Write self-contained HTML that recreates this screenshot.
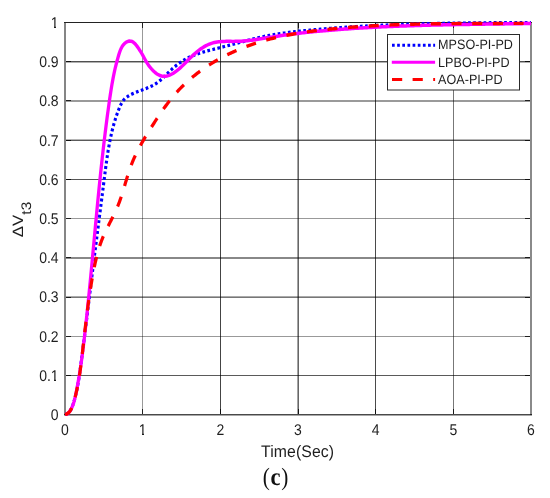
<!DOCTYPE html>
<html><head><meta charset="utf-8"><style>
html,body{margin:0;padding:0;background:#fff;}
body{width:550px;height:498px;overflow:hidden;position:relative;}
svg{position:absolute;left:0;top:0;}
text{font-family:"Liberation Sans",Arial,Helvetica,sans-serif;fill:#1e1e1e;text-rendering:geometricPrecision;}
.tk{font-size:14px;}
.lb{font-size:15.8px;letter-spacing:0.1px;}
.lg{font-size:12.6px;}
.cap{font-family:"Liberation Serif","Times New Roman",serif;font-size:25px;fill:#111;}
</style></head><body>
<svg width="550" height="498" viewBox="0 0 550 498">
<rect width="550" height="498" fill="#fff"/>
<rect x="142" y="23" width="1" height="391" fill="#000" fill-opacity="0.400"/>
<rect x="220" y="23" width="1" height="391" fill="#000" fill-opacity="0.733"/>
<rect x="297" y="23" width="1" height="391" fill="#000" fill-opacity="0.357"/>
<rect x="298" y="23" width="1" height="391" fill="#000" fill-opacity="0.600"/>
<rect x="375" y="23" width="1" height="391" fill="#000" fill-opacity="0.710"/>
<rect x="453" y="23" width="1" height="391" fill="#000" fill-opacity="0.533"/>
<rect x="66" y="375" width="464" height="1" fill="#000" fill-opacity="0.647"/>
<rect x="66" y="336" width="464" height="1" fill="#000" fill-opacity="0.400"/>
<rect x="66" y="296" width="464" height="1" fill="#000" fill-opacity="0.333"/>
<rect x="66" y="297" width="464" height="1" fill="#000" fill-opacity="0.533"/>
<rect x="66" y="257" width="464" height="1" fill="#000" fill-opacity="0.467"/>
<rect x="66" y="258" width="464" height="1" fill="#000" fill-opacity="0.467"/>
<rect x="66" y="218" width="464" height="1" fill="#000" fill-opacity="0.400"/>
<rect x="66" y="179" width="464" height="1" fill="#000" fill-opacity="0.667"/>
<rect x="66" y="139" width="464" height="1" fill="#000" fill-opacity="0.290"/>
<rect x="66" y="140" width="464" height="1" fill="#000" fill-opacity="0.647"/>
<rect x="66" y="100" width="464" height="1" fill="#000" fill-opacity="0.396"/>
<rect x="66" y="101" width="464" height="1" fill="#000" fill-opacity="0.396"/>
<rect x="66" y="61" width="464" height="1" fill="#000" fill-opacity="0.686"/>
<rect x="66" y="62" width="464" height="1" fill="#000" fill-opacity="0.310"/>
<rect x="64" y="22" width="468" height="1" fill="#000" fill-opacity="0.867"/>
<rect x="64" y="414" width="468" height="1" fill="#000" fill-opacity="0.710"/>
<rect x="64" y="415" width="468" height="1" fill="#000" fill-opacity="0.341"/>
<rect x="64" y="23" width="1" height="392" fill="#000" fill-opacity="0.478"/>
<rect x="65" y="23" width="1" height="392" fill="#000" fill-opacity="0.478"/>
<rect x="530" y="23" width="1" height="392" fill="#000" fill-opacity="0.459"/>
<rect x="531" y="23" width="1" height="392" fill="#000" fill-opacity="0.459"/>
<rect x="142" y="23" width="1" height="5" fill="#000" fill-opacity="0.792"/>
<rect x="142" y="409" width="1" height="5" fill="#000" fill-opacity="0.792"/>
<rect x="220" y="23" width="1" height="5" fill="#000" fill-opacity="0.792"/>
<rect x="220" y="409" width="1" height="5" fill="#000" fill-opacity="0.792"/>
<rect x="298" y="23" width="1" height="5" fill="#000" fill-opacity="0.792"/>
<rect x="298" y="409" width="1" height="5" fill="#000" fill-opacity="0.792"/>
<rect x="375" y="23" width="1" height="5" fill="#000" fill-opacity="0.792"/>
<rect x="375" y="409" width="1" height="5" fill="#000" fill-opacity="0.792"/>
<rect x="453" y="23" width="1" height="5" fill="#000" fill-opacity="0.792"/>
<rect x="453" y="409" width="1" height="5" fill="#000" fill-opacity="0.792"/>
<rect x="66" y="375" width="5" height="1" fill="#000" fill-opacity="0.792"/>
<rect x="525" y="375" width="5" height="1" fill="#000" fill-opacity="0.792"/>
<rect x="66" y="336" width="5" height="1" fill="#000" fill-opacity="0.792"/>
<rect x="525" y="336" width="5" height="1" fill="#000" fill-opacity="0.792"/>
<rect x="66" y="297" width="5" height="1" fill="#000" fill-opacity="0.792"/>
<rect x="525" y="297" width="5" height="1" fill="#000" fill-opacity="0.792"/>
<rect x="66" y="257" width="5" height="1" fill="#000" fill-opacity="0.792"/>
<rect x="525" y="257" width="5" height="1" fill="#000" fill-opacity="0.792"/>
<rect x="66" y="218" width="5" height="1" fill="#000" fill-opacity="0.792"/>
<rect x="525" y="218" width="5" height="1" fill="#000" fill-opacity="0.792"/>
<rect x="66" y="179" width="5" height="1" fill="#000" fill-opacity="0.792"/>
<rect x="525" y="179" width="5" height="1" fill="#000" fill-opacity="0.792"/>
<rect x="66" y="140" width="5" height="1" fill="#000" fill-opacity="0.792"/>
<rect x="525" y="140" width="5" height="1" fill="#000" fill-opacity="0.792"/>
<rect x="66" y="100" width="5" height="1" fill="#000" fill-opacity="0.792"/>
<rect x="525" y="100" width="5" height="1" fill="#000" fill-opacity="0.792"/>
<rect x="66" y="61" width="5" height="1" fill="#000" fill-opacity="0.792"/>
<rect x="525" y="61" width="5" height="1" fill="#000" fill-opacity="0.792"/>
<clipPath id="clip"><rect x="64.0" y="19.81" width="468.0" height="372.64"/></clipPath>
<g transform="scale(1,1.06)" clip-path="url(#clip)">
<path d="M65.00 391.06 L66.51 390.69 L67.78 390.02 L68.86 389.12 L69.79 388.07 L70.61 386.92 L71.32 385.69 L71.95 384.39 L72.51 383.04 L73.02 381.66 L73.49 380.27 L73.93 378.87 L74.36 377.47 L74.76 376.07 L75.15 374.67 L75.52 373.28 L75.88 371.88 L76.22 370.49 L76.54 369.09 L76.86 367.70 L77.16 366.31 L77.44 364.92 L77.72 363.53 L77.98 362.13 L78.24 360.74 L78.49 359.35 L78.73 357.96 L78.96 356.57 L79.18 355.18 L79.40 353.79 L79.61 352.40 L79.82 351.00 L80.03 349.61 L80.23 348.22 L80.43 346.83 L80.63 345.43 L80.83 344.04 L81.03 342.64 L81.23 341.24 L81.43 339.84 L81.62 338.44 L81.82 337.05 L82.02 335.65 L82.21 334.24 L82.40 332.84 L82.60 331.44 L82.79 330.04 L82.98 328.63 L83.18 327.23 L83.37 325.83 L83.56 324.42 L83.75 323.01 L83.94 321.61 L84.13 320.20 L84.32 318.79 L84.51 317.39 L84.70 315.98 L84.88 314.57 L85.07 313.16 L85.26 311.75 L85.44 310.34 L85.63 308.93 L85.82 307.52 L86.00 306.11 L86.19 304.70 L86.37 303.29 L86.56 301.87 L86.74 300.46 L86.93 299.05 L87.11 297.64 L87.30 296.22 L87.48 294.81 L87.67 293.40 L87.85 291.98 L88.03 290.57 L88.22 289.16 L88.40 287.74 L88.58 286.33 L88.77 284.92 L88.95 283.50 L89.13 282.09 L89.32 280.68 L89.50 279.26 L89.68 277.85 L89.86 276.43 L90.05 275.02 L90.23 273.61 L90.41 272.19 L90.60 270.78 L90.78 269.37 L90.96 267.95 L91.15 266.54 L91.33 265.13 L91.51 263.72 L91.70 262.30 L91.88 260.89 L92.07 259.48 L92.25 258.07 L92.44 256.66 L92.62 255.25 L92.81 253.84 L92.99 252.43 L93.18 251.02 L93.36 249.61 L93.55 248.20 L93.74 246.79 L93.92 245.38 L94.11 243.98 L94.30 242.57 L94.49 241.16 L94.67 239.76 L94.86 238.35 L95.05 236.94 L95.24 235.54 L95.43 234.13 L95.62 232.72 L95.80 231.32 L95.99 229.91 L96.18 228.51 L96.37 227.10 L96.56 225.70 L96.75 224.29 L96.94 222.89 L97.13 221.48 L97.32 220.08 L97.51 218.67 L97.70 217.27 L97.89 215.86 L98.08 214.46 L98.27 213.05 L98.46 211.65 L98.65 210.24 L98.84 208.84 L99.04 207.43 L99.23 206.02 L99.42 204.62 L99.61 203.21 L99.80 201.81 L99.99 200.40 L100.18 198.99 L100.37 197.59 L100.56 196.18 L100.75 194.77 L100.94 193.37 L101.13 191.96 L101.33 190.55 L101.52 189.14 L101.71 187.73 L101.90 186.33 L102.09 184.92 L102.28 183.51 L102.47 182.10 L102.66 180.69 L102.85 179.28 L103.04 177.86 L103.23 176.45 L103.42 175.04 L103.61 173.63 L103.80 172.21 L103.99 170.80 L104.18 169.39 L104.37 167.97 L104.56 166.56 L104.75 165.14 L104.94 163.72 L105.13 162.31 L105.32 160.89 L105.51 159.48 L105.71 158.06 L105.91 156.65 L106.11 155.23 L106.32 153.82 L106.52 152.40 L106.73 150.99 L106.95 149.58 L107.17 148.17 L107.39 146.76 L107.62 145.35 L107.86 143.94 L108.09 142.54 L108.34 141.14 L108.59 139.73 L108.85 138.33 L109.11 136.94 L109.38 135.54 L109.66 134.15 L109.95 132.76 L110.24 131.37 L110.55 129.98 L110.86 128.60 L111.18 127.22 L111.51 125.84 L111.85 124.47 L112.20 123.09 L112.56 121.73 L112.93 120.36 L113.31 119.00 L113.70 117.64 L114.10 116.29 L114.52 114.94 L114.95 113.59 L115.39 112.25 L115.84 110.91 L116.31 109.58 L116.79 108.24 L117.29 106.90 L117.82 105.55 L118.36 104.21 L118.92 102.85 L119.50 101.49 L120.12 100.14 L120.78 98.81 L121.49 97.51 L122.26 96.27 L123.10 95.10 L124.02 94.01 L125.01 93.01 L126.09 92.10 L127.24 91.27 L128.45 90.51 L129.71 89.81 L131.01 89.17 L132.34 88.56 L133.69 87.98 L135.07 87.42 L136.45 86.89 L137.86 86.38 L139.27 85.87 L140.68 85.37 L142.10 84.88 L143.52 84.38 L144.94 83.87 L146.35 83.36 L147.74 82.82 L149.13 82.26 L150.49 81.68 L151.84 81.07 L153.17 80.42 L154.46 79.73 L155.73 79.00 L156.97 78.22 L158.17 77.39 L159.35 76.52 L160.50 75.61 L161.63 74.67 L162.74 73.71 L163.84 72.72 L164.93 71.72 L166.02 70.71 L167.10 69.69 L168.18 68.67 L169.27 67.66 L170.36 66.66 L171.47 65.67 L172.59 64.70 L173.72 63.75 L174.88 62.83 L176.04 61.93 L177.23 61.06 L178.43 60.21 L179.65 59.38 L180.88 58.58 L182.13 57.81 L183.39 57.06 L184.67 56.33 L185.96 55.63 L187.27 54.96 L188.59 54.31 L189.93 53.69 L191.28 53.10 L192.65 52.54 L194.03 52.00 L195.42 51.49 L196.82 51.00 L198.24 50.54 L199.66 50.10 L201.10 49.67 L202.54 49.26 L203.98 48.87 L205.44 48.49 L206.89 48.12 L208.36 47.75 L209.82 47.40 L211.28 47.04 L212.74 46.70 L214.21 46.35 L215.67 46.00 L217.13 45.65 L218.58 45.30 L220.04 44.94 L221.50 44.59 L222.95 44.24 L224.41 43.89 L225.86 43.53 L227.31 43.18 L228.76 42.82 L230.21 42.47 L231.66 42.11 L233.11 41.75 L234.56 41.39 L236.01 41.03 L237.46 40.66 L238.92 40.30 L240.37 39.93 L241.82 39.56 L243.27 39.20 L244.72 38.83 L246.17 38.46 L247.63 38.10 L249.08 37.74 L250.53 37.39 L251.99 37.03 L253.45 36.69 L254.91 36.35 L256.37 36.01 L257.83 35.69 L259.30 35.37 L260.76 35.06 L262.23 34.76 L263.70 34.47 L265.17 34.18 L266.65 33.91 L268.12 33.64 L269.60 33.38 L271.08 33.12 L272.56 32.88 L274.04 32.64 L275.53 32.41 L277.01 32.18 L278.50 31.96 L279.98 31.75 L281.47 31.54 L282.96 31.34 L284.45 31.14 L285.94 30.95 L287.43 30.76 L288.93 30.58 L290.42 30.40 L291.92 30.23 L293.41 30.06 L294.91 29.90 L296.41 29.74 L297.90 29.58 L299.40 29.43 L300.90 29.28 L302.40 29.13 L303.90 28.99 L305.40 28.84 L306.90 28.71 L308.40 28.57 L309.90 28.43 L311.40 28.30 L312.90 28.17 L314.40 28.04 L315.90 27.91 L317.40 27.78 L318.90 27.66 L320.40 27.54 L321.90 27.42 L323.40 27.30 L324.90 27.18 L326.41 27.06 L327.91 26.95 L329.41 26.83 L330.91 26.72 L332.41 26.61 L333.91 26.50 L335.41 26.40 L336.91 26.29 L338.42 26.19 L339.92 26.09 L341.42 25.99 L342.92 25.89 L344.42 25.79 L345.93 25.69 L347.43 25.60 L348.93 25.50 L350.43 25.41 L351.93 25.32 L353.44 25.23 L354.94 25.15 L356.44 25.06 L357.94 24.97 L359.45 24.89 L360.95 24.81 L362.45 24.73 L363.96 24.65 L365.46 24.57 L366.96 24.49 L368.46 24.42 L369.97 24.34 L371.47 24.27 L372.97 24.20 L374.48 24.13 L375.98 24.06 L377.48 23.99 L378.99 23.93 L380.49 23.86 L381.99 23.80 L383.50 23.73 L385.00 23.67 L386.50 23.61 L388.01 23.55 L389.51 23.49 L391.02 23.43 L392.52 23.38 L394.02 23.32 L395.53 23.27 L397.03 23.21 L398.54 23.16 L400.04 23.11 L401.54 23.06 L403.05 23.01 L404.55 22.96 L406.06 22.92 L407.56 22.87 L409.07 22.83 L410.57 22.78 L412.07 22.74 L413.58 22.70 L415.08 22.65 L416.59 22.61 L418.09 22.57 L419.60 22.53 L421.10 22.50 L422.61 22.46 L424.11 22.42 L425.62 22.39 L427.12 22.35 L428.63 22.32 L430.13 22.29 L431.63 22.25 L433.14 22.22 L434.64 22.19 L436.15 22.16 L437.65 22.13 L439.16 22.10 L440.66 22.08 L442.17 22.05 L443.68 22.02 L445.18 22.00 L446.69 21.97 L448.19 21.95 L449.70 21.92 L451.20 21.90 L452.71 21.88 L454.21 21.86 L455.72 21.83 L457.22 21.81 L458.73 21.79 L460.23 21.77 L461.74 21.75 L463.24 21.73 L464.75 21.72 L466.26 21.70 L467.76 21.68 L469.27 21.66 L470.77 21.65 L472.28 21.63 L473.78 21.62 L475.29 21.60 L476.79 21.59 L478.30 21.57 L479.81 21.56 L481.31 21.55 L482.82 21.53 L484.32 21.52 L485.83 21.51 L487.33 21.49 L488.84 21.48 L490.35 21.47 L491.85 21.46 L493.36 21.45 L494.86 21.44 L496.37 21.43 L497.87 21.42 L499.38 21.41 L500.89 21.40 L502.39 21.39 L503.90 21.38 L505.40 21.37 L506.91 21.36 L508.41 21.35 L509.92 21.34 L511.43 21.33 L512.93 21.32 L514.44 21.32 L515.94 21.31 L517.45 21.30 L518.95 21.29 L520.46 21.28 L521.97 21.27 L523.47 21.27 L524.98 21.26 L526.48 21.25 L527.99 21.24 L529.49 21.23 L531.00 21.23" fill="none" stroke="#0000ff" stroke-width="3.1" stroke-dasharray="2.7 2.455" stroke-dashoffset="-0.69"/>
<path d="M65.00 391.05 L66.56 390.80 L67.81 390.10 L68.84 389.10 L69.73 387.96 L70.53 386.78 L71.26 385.55 L71.92 384.30 L72.52 383.01 L73.06 381.70 L73.55 380.36 L73.99 379.00 L74.40 377.63 L74.78 376.24 L75.13 374.84 L75.46 373.44 L75.77 372.03 L76.08 370.62 L76.38 369.22 L76.68 367.81 L76.97 366.40 L77.25 365.00 L77.53 363.59 L77.81 362.19 L78.08 360.78 L78.34 359.38 L78.60 357.97 L78.85 356.57 L79.10 355.17 L79.34 353.76 L79.58 352.36 L79.82 350.96 L80.05 349.56 L80.28 348.16 L80.50 346.76 L80.72 345.35 L80.94 343.95 L81.15 342.55 L81.36 341.15 L81.56 339.75 L81.77 338.35 L81.96 336.95 L82.16 335.55 L82.35 334.15 L82.55 332.75 L82.73 331.34 L82.92 329.94 L83.10 328.54 L83.29 327.14 L83.47 325.74 L83.64 324.34 L83.82 322.93 L84.00 321.53 L84.17 320.13 L84.34 318.72 L84.51 317.32 L84.68 315.92 L84.85 314.51 L85.02 313.11 L85.19 311.70 L85.35 310.30 L85.52 308.89 L85.68 307.48 L85.85 306.08 L86.01 304.67 L86.17 303.26 L86.33 301.85 L86.49 300.45 L86.65 299.04 L86.81 297.63 L86.97 296.22 L87.13 294.81 L87.28 293.40 L87.44 291.99 L87.59 290.58 L87.75 289.17 L87.90 287.76 L88.05 286.35 L88.21 284.93 L88.36 283.52 L88.51 282.11 L88.66 280.70 L88.81 279.28 L88.96 277.87 L89.11 276.46 L89.25 275.05 L89.40 273.63 L89.55 272.22 L89.70 270.80 L89.84 269.39 L89.99 267.98 L90.13 266.56 L90.28 265.15 L90.42 263.73 L90.57 262.32 L90.71 260.90 L90.85 259.48 L91.00 258.07 L91.14 256.65 L91.28 255.24 L91.42 253.82 L91.57 252.40 L91.71 250.99 L91.85 249.57 L91.99 248.16 L92.13 246.74 L92.27 245.32 L92.41 243.90 L92.55 242.49 L92.69 241.07 L92.83 239.65 L92.97 238.24 L93.11 236.82 L93.25 235.40 L93.39 233.98 L93.53 232.57 L93.67 231.15 L93.81 229.73 L93.95 228.31 L94.09 226.90 L94.23 225.48 L94.37 224.06 L94.51 222.64 L94.65 221.22 L94.79 219.81 L94.93 218.39 L95.07 216.97 L95.21 215.55 L95.35 214.14 L95.49 212.72 L95.63 211.30 L95.77 209.88 L95.91 208.47 L96.05 207.05 L96.19 205.63 L96.34 204.21 L96.48 202.80 L96.62 201.38 L96.76 199.96 L96.91 198.55 L97.05 197.13 L97.19 195.71 L97.34 194.30 L97.48 192.88 L97.63 191.46 L97.77 190.05 L97.92 188.63 L98.07 187.21 L98.21 185.80 L98.36 184.38 L98.51 182.97 L98.66 181.55 L98.81 180.14 L98.95 178.72 L99.10 177.31 L99.26 175.89 L99.41 174.48 L99.56 173.06 L99.71 171.65 L99.86 170.24 L100.02 168.82 L100.17 167.41 L100.33 166.00 L100.48 164.58 L100.64 163.17 L100.80 161.76 L100.96 160.35 L101.11 158.93 L101.27 157.52 L101.43 156.11 L101.60 154.70 L101.76 153.29 L101.92 151.88 L102.08 150.47 L102.25 149.06 L102.41 147.65 L102.58 146.24 L102.75 144.83 L102.92 143.42 L103.09 142.01 L103.26 140.61 L103.43 139.20 L103.60 137.79 L103.77 136.38 L103.95 134.98 L104.12 133.57 L104.30 132.17 L104.48 130.76 L104.66 129.36 L104.84 127.95 L105.02 126.55 L105.20 125.14 L105.38 123.74 L105.57 122.34 L105.76 120.94 L105.94 119.53 L106.13 118.13 L106.32 116.73 L106.51 115.33 L106.70 113.93 L106.90 112.53 L107.09 111.13 L107.29 109.73 L107.49 108.33 L107.68 106.94 L107.88 105.54 L108.09 104.14 L108.29 102.74 L108.49 101.35 L108.70 99.95 L108.91 98.56 L109.12 97.16 L109.33 95.77 L109.54 94.38 L109.75 92.98 L109.97 91.59 L110.19 90.20 L110.41 88.81 L110.63 87.42 L110.86 86.02 L111.09 84.63 L111.33 83.24 L111.57 81.85 L111.82 80.45 L112.07 79.06 L112.34 77.66 L112.60 76.27 L112.88 74.87 L113.16 73.47 L113.45 72.07 L113.75 70.67 L114.06 69.26 L114.38 67.86 L114.70 66.45 L115.04 65.04 L115.39 63.63 L115.75 62.22 L116.12 60.80 L116.50 59.38 L116.90 57.96 L117.31 56.54 L117.73 55.11 L118.16 53.68 L118.61 52.25 L119.08 50.82 L119.57 49.39 L120.10 48.00 L120.67 46.64 L121.31 45.34 L122.01 44.11 L122.79 42.96 L123.67 41.90 L124.64 40.96 L125.73 40.14 L126.93 39.47 L128.21 38.98 L129.54 38.74 L130.86 38.80 L132.15 39.19 L133.39 39.90 L134.58 40.86 L135.72 42.02 L136.80 43.31 L137.82 44.67 L138.80 46.04 L139.71 47.36 L140.58 48.63 L141.38 49.85 L142.13 51.04 L142.82 52.21 L143.48 53.36 L144.12 54.51 L144.77 55.66 L145.44 56.82 L146.16 58.00 L146.94 59.21 L147.78 60.43 L148.67 61.66 L149.62 62.88 L150.62 64.07 L151.67 65.23 L152.76 66.35 L153.90 67.40 L155.07 68.37 L156.28 69.26 L157.52 70.05 L158.80 70.72 L160.09 71.27 L161.42 71.67 L162.76 71.92 L164.12 72.01 L165.49 71.93 L166.87 71.70 L168.25 71.34 L169.63 70.86 L171.01 70.26 L172.37 69.57 L173.71 68.80 L175.03 67.97 L176.32 67.08 L177.58 66.15 L178.81 65.19 L179.98 64.23 L181.12 63.26 L182.21 62.29 L183.27 61.32 L184.31 60.35 L185.33 59.38 L186.34 58.41 L187.35 57.43 L188.37 56.45 L189.40 55.46 L190.45 54.47 L191.52 53.48 L192.62 52.49 L193.74 51.50 L194.88 50.53 L196.04 49.58 L197.22 48.65 L198.42 47.75 L199.65 46.88 L200.89 46.05 L202.15 45.24 L203.43 44.48 L204.73 43.76 L206.04 43.09 L207.38 42.46 L208.74 41.89 L210.11 41.37 L211.50 40.90 L212.91 40.49 L214.33 40.15 L215.77 39.86 L217.23 39.63 L218.70 39.44 L220.18 39.30 L221.67 39.19 L223.17 39.11 L224.68 39.06 L226.19 39.03 L227.71 39.02 L229.24 39.02 L230.77 39.03 L232.30 39.04 L233.82 39.04 L235.35 39.03 L236.88 39.01 L238.40 38.97 L239.91 38.91 L241.43 38.84 L242.94 38.74 L244.44 38.63 L245.94 38.51 L247.44 38.37 L248.94 38.21 L250.43 38.05 L251.93 37.87 L253.42 37.68 L254.90 37.48 L256.39 37.28 L257.87 37.07 L259.36 36.85 L260.84 36.63 L262.32 36.40 L263.80 36.17 L265.28 35.94 L266.76 35.71 L268.24 35.47 L269.73 35.24 L271.21 35.01 L272.69 34.78 L274.17 34.56 L275.66 34.34 L277.14 34.13 L278.63 33.92 L280.11 33.71 L281.60 33.51 L283.09 33.31 L284.58 33.11 L286.07 32.92 L287.56 32.73 L289.05 32.54 L290.54 32.36 L292.03 32.18 L293.53 32.00 L295.02 31.83 L296.51 31.66 L298.01 31.50 L299.50 31.33 L301.00 31.17 L302.50 31.01 L303.99 30.86 L305.49 30.70 L306.99 30.55 L308.49 30.40 L309.98 30.26 L311.48 30.12 L312.98 29.97 L314.48 29.84 L315.98 29.70 L317.48 29.56 L318.98 29.43 L320.48 29.30 L321.98 29.17 L323.48 29.04 L324.98 28.92 L326.48 28.80 L327.98 28.67 L329.48 28.55 L330.98 28.44 L332.48 28.32 L333.98 28.20 L335.48 28.09 L336.98 27.98 L338.48 27.87 L339.98 27.76 L341.48 27.66 L342.98 27.55 L344.48 27.45 L345.98 27.35 L347.49 27.25 L348.99 27.15 L350.49 27.05 L351.99 26.96 L353.49 26.86 L354.99 26.77 L356.50 26.68 L358.00 26.59 L359.50 26.50 L361.00 26.42 L362.50 26.33 L364.01 26.25 L365.51 26.17 L367.01 26.08 L368.51 26.01 L370.02 25.93 L371.52 25.85 L373.02 25.78 L374.52 25.70 L376.03 25.63 L377.53 25.56 L379.03 25.49 L380.54 25.42 L382.04 25.35 L383.54 25.28 L385.05 25.22 L386.55 25.15 L388.05 25.09 L389.56 25.03 L391.06 24.97 L392.56 24.91 L394.07 24.85 L395.57 24.79 L397.08 24.74 L398.58 24.68 L400.08 24.63 L401.59 24.57 L403.09 24.52 L404.59 24.47 L406.10 24.42 L407.60 24.37 L409.11 24.32 L410.61 24.28 L412.12 24.23 L413.62 24.18 L415.12 24.14 L416.63 24.10 L418.13 24.05 L419.64 24.01 L421.14 23.97 L422.65 23.93 L424.15 23.89 L425.66 23.85 L427.16 23.81 L428.67 23.78 L430.17 23.74 L431.68 23.70 L433.18 23.67 L434.68 23.63 L436.19 23.60 L437.69 23.57 L439.20 23.53 L440.70 23.50 L442.21 23.47 L443.71 23.44 L445.22 23.41 L446.72 23.38 L448.23 23.35 L449.73 23.32 L451.24 23.30 L452.74 23.27 L454.25 23.24 L455.75 23.22 L457.26 23.19 L458.76 23.16 L460.27 23.14 L461.77 23.12 L463.28 23.09 L464.79 23.07 L466.29 23.04 L467.80 23.02 L469.30 23.00 L470.81 22.97 L472.31 22.95 L473.82 22.93 L475.32 22.91 L476.83 22.89 L478.33 22.87 L479.84 22.85 L481.34 22.82 L482.85 22.80 L484.35 22.78 L485.86 22.76 L487.36 22.74 L488.87 22.72 L490.37 22.70 L491.88 22.68 L493.38 22.66 L494.89 22.65 L496.39 22.63 L497.90 22.61 L499.40 22.59 L500.91 22.57 L502.41 22.55 L503.92 22.53 L505.42 22.51 L506.93 22.49 L508.43 22.47 L509.94 22.45 L511.44 22.43 L512.95 22.41 L514.45 22.39 L515.95 22.37 L517.46 22.35 L518.96 22.33 L520.47 22.31 L521.97 22.29 L523.48 22.27 L524.98 22.25 L526.49 22.22 L527.99 22.20 L529.50 22.18 L531.00 22.16" fill="none" stroke="#ff00ff" stroke-width="3.3" stroke-linejoin="round"/>
<path d="M65.01 391.07 L66.48 390.63 L67.76 389.95 L68.86 389.09 L69.80 388.08 L70.62 386.96 L71.34 385.75 L71.96 384.45 L72.51 383.10 L73.00 381.71 L73.46 380.31 L73.89 378.89 L74.31 377.48 L74.72 376.07 L75.11 374.67 L75.49 373.26 L75.85 371.86 L76.20 370.46 L76.54 369.06 L76.87 367.66 L77.18 366.27 L77.48 364.87 L77.78 363.48 L78.06 362.08 L78.33 360.69 L78.59 359.30 L78.85 357.91 L79.09 356.52 L79.33 355.13 L79.56 353.74 L79.78 352.35 L80.00 350.96 L80.21 349.58 L80.41 348.19 L80.61 346.80 L80.80 345.41 L80.99 344.02 L81.18 342.63 L81.36 341.25 L81.53 339.86 L81.71 338.46 L81.88 337.07 L82.05 335.68 L82.22 334.29 L82.39 332.89 L82.56 331.50 L82.73 330.10 L82.89 328.70 L83.06 327.31 L83.23 325.91 L83.40 324.50 L83.56 323.10 L83.73 321.70 L83.90 320.30 L84.07 318.89 L84.24 317.49 L84.41 316.08 L84.58 314.67 L84.75 313.27 L84.92 311.86 L85.10 310.45 L85.27 309.04 L85.45 307.63 L85.63 306.22 L85.80 304.81 L85.98 303.40 L86.17 301.99 L86.35 300.58 L86.53 299.16 L86.72 297.75 L86.91 296.34 L87.10 294.93 L87.29 293.51 L87.49 292.10 L87.68 290.69 L87.88 289.28 L88.08 287.86 L88.29 286.45 L88.50 285.04 L88.71 283.63 L88.92 282.22 L89.13 280.81 L89.35 279.39 L89.57 277.98 L89.80 276.57 L90.02 275.16 L90.25 273.76 L90.49 272.35 L90.73 270.94 L90.97 269.53 L91.21 268.13 L91.46 266.72 L91.71 265.31 L91.97 263.91 L92.23 262.51 L92.50 261.10 L92.76 259.70 L93.04 258.30 L93.31 256.90 L93.60 255.50 L93.88 254.11 L94.18 252.71 L94.47 251.32 L94.78 249.92 L95.09 248.53 L95.41 247.15 L95.74 245.76 L96.08 244.38 L96.42 243.00 L96.78 241.63 L97.15 240.26 L97.54 238.89 L97.93 237.53 L98.34 236.17 L98.77 234.82 L99.20 233.47 L99.66 232.13 L100.13 230.79 L100.62 229.46 L101.12 228.14 L101.65 226.82 L102.19 225.51 L102.75 224.21 L103.33 222.91 L103.93 221.62 L104.54 220.34 L105.17 219.06 L105.81 217.78 L106.46 216.51 L107.12 215.24 L107.79 213.97 L108.46 212.70 L109.14 211.44 L109.82 210.17 L110.50 208.91 L111.18 207.65 L111.86 206.38 L112.53 205.11 L113.20 203.84 L113.86 202.56 L114.52 201.29 L115.16 200.00 L115.79 198.71 L116.41 197.42 L117.02 196.12 L117.61 194.81 L118.18 193.50 L118.73 192.18 L119.27 190.85 L119.79 189.51 L120.30 188.17 L120.79 186.82 L121.27 185.47 L121.75 184.11 L122.21 182.75 L122.66 181.39 L123.11 180.02 L123.55 178.66 L123.99 177.29 L124.42 175.92 L124.85 174.55 L125.28 173.17 L125.71 171.80 L126.15 170.43 L126.58 169.07 L127.02 167.70 L127.46 166.34 L127.91 164.98 L128.36 163.62 L128.83 162.27 L129.30 160.92 L129.78 159.58 L130.28 158.24 L130.79 156.92 L131.31 155.59 L131.85 154.28 L132.40 152.97 L132.97 151.67 L133.55 150.38 L134.15 149.09 L134.76 147.81 L135.39 146.54 L136.03 145.27 L136.68 144.01 L137.34 142.76 L138.02 141.50 L138.70 140.26 L139.40 139.02 L140.11 137.78 L140.83 136.55 L141.55 135.32 L142.29 134.09 L143.03 132.87 L143.79 131.65 L144.55 130.44 L145.31 129.22 L146.09 128.01 L146.87 126.80 L147.65 125.60 L148.45 124.39 L149.24 123.19 L150.04 121.98 L150.85 120.78 L151.66 119.57 L152.47 118.37 L153.29 117.17 L154.11 115.97 L154.93 114.77 L155.76 113.57 L156.59 112.37 L157.42 111.17 L158.26 109.98 L159.11 108.79 L159.96 107.60 L160.82 106.42 L161.68 105.24 L162.55 104.07 L163.43 102.90 L164.31 101.74 L165.20 100.58 L166.10 99.42 L167.00 98.28 L167.92 97.14 L168.84 96.01 L169.77 94.88 L170.71 93.76 L171.65 92.65 L172.61 91.55 L173.58 90.46 L174.55 89.38 L175.54 88.31 L176.54 87.25 L177.54 86.19 L178.56 85.15 L179.59 84.12 L180.63 83.10 L181.68 82.09 L182.74 81.10 L183.81 80.11 L184.89 79.13 L185.98 78.16 L187.08 77.21 L188.19 76.26 L189.31 75.33 L190.43 74.40 L191.57 73.49 L192.72 72.58 L193.87 71.69 L195.04 70.80 L196.21 69.93 L197.39 69.06 L198.58 68.21 L199.78 67.37 L200.98 66.53 L202.20 65.71 L203.42 64.90 L204.65 64.10 L205.89 63.30 L207.13 62.52 L208.39 61.75 L209.65 60.98 L210.91 60.23 L212.19 59.49 L213.47 58.75 L214.76 58.03 L216.05 57.31 L217.35 56.61 L218.66 55.92 L219.97 55.23 L221.29 54.55 L222.62 53.89 L223.95 53.23 L225.29 52.59 L226.63 51.95 L227.98 51.32 L229.33 50.70 L230.69 50.09 L232.06 49.50 L233.43 48.91 L234.80 48.32 L236.18 47.75 L237.56 47.19 L238.95 46.64 L240.34 46.10 L241.74 45.56 L243.14 45.04 L244.54 44.52 L245.95 44.01 L247.36 43.52 L248.78 43.03 L250.20 42.55 L251.62 42.08 L253.05 41.61 L254.48 41.16 L255.91 40.72 L257.34 40.28 L258.78 39.86 L260.22 39.44 L261.66 39.03 L263.10 38.63 L264.55 38.24 L266.00 37.86 L267.45 37.48 L268.90 37.12 L270.36 36.76 L271.81 36.41 L273.27 36.07 L274.73 35.73 L276.19 35.41 L277.66 35.09 L279.12 34.77 L280.59 34.47 L282.06 34.17 L283.53 33.88 L285.00 33.59 L286.48 33.32 L287.95 33.05 L289.43 32.78 L290.91 32.52 L292.39 32.27 L293.87 32.02 L295.35 31.78 L296.83 31.54 L298.32 31.31 L299.80 31.09 L301.29 30.87 L302.78 30.66 L304.27 30.45 L305.75 30.24 L307.24 30.04 L308.74 29.85 L310.23 29.65 L311.72 29.47 L313.21 29.29 L314.71 29.11 L316.20 28.93 L317.70 28.76 L319.19 28.59 L320.69 28.43 L322.18 28.27 L323.68 28.11 L325.17 27.96 L326.67 27.81 L328.17 27.66 L329.67 27.51 L331.16 27.37 L332.66 27.23 L334.16 27.09 L335.66 26.95 L337.15 26.82 L338.65 26.69 L340.15 26.56 L341.65 26.44 L343.15 26.31 L344.64 26.19 L346.14 26.07 L347.64 25.96 L349.14 25.84 L350.64 25.73 L352.14 25.62 L353.64 25.52 L355.14 25.41 L356.64 25.31 L358.14 25.21 L359.64 25.11 L361.13 25.02 L362.63 24.92 L364.13 24.83 L365.63 24.74 L367.13 24.65 L368.64 24.57 L370.14 24.48 L371.64 24.40 L373.14 24.32 L374.64 24.25 L376.14 24.17 L377.64 24.10 L379.14 24.02 L380.64 23.95 L382.14 23.89 L383.64 23.82 L385.14 23.75 L386.65 23.69 L388.15 23.63 L389.65 23.57 L391.15 23.51 L392.65 23.46 L394.15 23.40 L395.66 23.35 L397.16 23.30 L398.66 23.25 L400.16 23.20 L401.67 23.15 L403.17 23.10 L404.67 23.06 L406.17 23.02 L407.68 22.98 L409.18 22.94 L410.68 22.90 L412.18 22.86 L413.69 22.82 L415.19 22.79 L416.69 22.75 L418.20 22.72 L419.70 22.69 L421.20 22.66 L422.70 22.63 L424.21 22.60 L425.71 22.58 L427.21 22.55 L428.72 22.53 L430.22 22.50 L431.72 22.48 L433.23 22.46 L434.73 22.44 L436.24 22.42 L437.74 22.40 L439.24 22.38 L440.75 22.37 L442.25 22.35 L443.75 22.33 L445.26 22.32 L446.76 22.31 L448.27 22.29 L449.77 22.28 L451.27 22.27 L452.78 22.26 L454.28 22.25 L455.79 22.24 L457.29 22.23 L458.80 22.22 L460.30 22.21 L461.80 22.20 L463.31 22.20 L464.81 22.19 L466.32 22.18 L467.82 22.18 L469.33 22.17 L470.83 22.17 L472.33 22.16 L473.84 22.16 L475.34 22.15 L476.85 22.15 L478.35 22.15 L479.86 22.14 L481.36 22.14 L482.86 22.14 L484.37 22.13 L485.87 22.13 L487.38 22.13 L488.88 22.13 L490.39 22.12 L491.89 22.12 L493.40 22.12 L494.90 22.12 L496.40 22.11 L497.91 22.11 L499.41 22.11 L500.92 22.10 L502.42 22.10 L503.93 22.10 L505.43 22.09 L506.94 22.09 L508.44 22.09 L509.94 22.08 L511.45 22.08 L512.95 22.07 L514.46 22.07 L515.96 22.06 L517.46 22.06 L518.97 22.05 L520.47 22.04 L521.98 22.04 L523.48 22.03 L524.99 22.02 L526.49 22.01 L527.99 22.00 L529.50 21.99 L531.00 21.98" fill="none" stroke="#ff0000" stroke-width="3.2" stroke-dasharray="10 10.7" stroke-dashoffset="0.5"/>
</g>
<rect x="387.5" y="34.5" width="132" height="55.5" fill="#fff" stroke="#2a2a2a" stroke-width="1"/>
<line x1="391.8" y1="45.2" x2="435.1" y2="45.2" stroke="#0000ff" stroke-width="3" stroke-dasharray="2.7 2.45" stroke-dashoffset="-0.2"/>
<line x1="391.8" y1="62.3" x2="435.1" y2="62.3" stroke="#ff00ff" stroke-width="3"/>
<line x1="392" y1="79.6" x2="435.1" y2="79.6" stroke="#ff0000" stroke-width="3" stroke-dasharray="10.2 10.4"/>
<text class="lg" transform="translate(438.10,49.30) scale(1.0,1.08)" text-anchor="start">MPSO-PI-PD</text>
<text class="lg" transform="translate(438.10,66.70) scale(1.0,1.08)" text-anchor="start">LPBO-PI-PD</text>
<text class="lg" transform="translate(438.10,83.80) scale(1.0,1.08)" text-anchor="start">AOA-PI-PD</text>
<g transform="translate(58.60,419.90) scale(1,1.11)"><text class="tk" text-anchor="end">0</text></g>
<g transform="translate(58.60,380.70) scale(1,1.11)"><text class="tk" text-anchor="end">0.1</text></g><rect x="50" y="378" width="4" height="4" fill="#fff"/><rect x="56" y="378" width="4" height="4" fill="#fff"/>
<g transform="translate(58.60,341.50) scale(1,1.11)"><text class="tk" text-anchor="end">0.2</text></g>
<g transform="translate(58.60,302.30) scale(1,1.11)"><text class="tk" text-anchor="end">0.3</text></g>
<g transform="translate(58.60,263.10) scale(1,1.11)"><text class="tk" text-anchor="end">0.4</text></g>
<g transform="translate(58.60,223.90) scale(1,1.11)"><text class="tk" text-anchor="end">0.5</text></g>
<g transform="translate(58.60,184.70) scale(1,1.11)"><text class="tk" text-anchor="end">0.6</text></g>
<g transform="translate(58.60,145.50) scale(1,1.11)"><text class="tk" text-anchor="end">0.7</text></g>
<g transform="translate(58.60,106.30) scale(1,1.11)"><text class="tk" text-anchor="end">0.8</text></g>
<g transform="translate(58.60,67.10) scale(1,1.11)"><text class="tk" text-anchor="end">0.9</text></g>
<g transform="translate(58.60,27.90) scale(1,1.11)"><text class="tk" text-anchor="end">1</text></g><rect x="50" y="25" width="4" height="4" fill="#fff"/><rect x="56" y="25" width="4" height="4" fill="#fff"/>
<g transform="translate(65.00,435.40) scale(1,1.11)"><text class="tk" text-anchor="middle">0</text></g>
<g transform="translate(142.67,435.40) scale(1,1.11)"><text class="tk" text-anchor="middle">1</text></g><rect x="138" y="433" width="4" height="4" fill="#fff"/><rect x="144" y="433" width="4" height="4" fill="#fff"/>
<g transform="translate(220.33,435.40) scale(1,1.11)"><text class="tk" text-anchor="middle">2</text></g>
<g transform="translate(298.00,435.40) scale(1,1.11)"><text class="tk" text-anchor="middle">3</text></g>
<g transform="translate(375.67,435.40) scale(1,1.11)"><text class="tk" text-anchor="middle">4</text></g>
<g transform="translate(453.33,435.40) scale(1,1.11)"><text class="tk" text-anchor="middle">5</text></g>
<g transform="translate(531.00,435.40) scale(1,1.11)"><text class="tk" text-anchor="middle">6</text></g>
<text class="lb" style="font-size:15px" transform="translate(23.1,237.2) scale(1,1.115) rotate(-90)">&#916;V<tspan style="font-size:13.8px" dy="7.6">t3</tspan></text>
<text class="lb" transform="translate(297.60,456.70) scale(1.0,1.06)" text-anchor="middle">Time(Sec)</text>
<text class="cap" transform="translate(266.4,485.3) scale(0.85,1)" text-anchor="middle">(</text>
<text class="cap" style="font-weight:bold" transform="translate(275.6,485) scale(0.9,1)" text-anchor="middle">c</text>
<text class="cap" transform="translate(284.9,485.3) scale(0.85,1)" text-anchor="middle">)</text>
</svg>
</body></html>
